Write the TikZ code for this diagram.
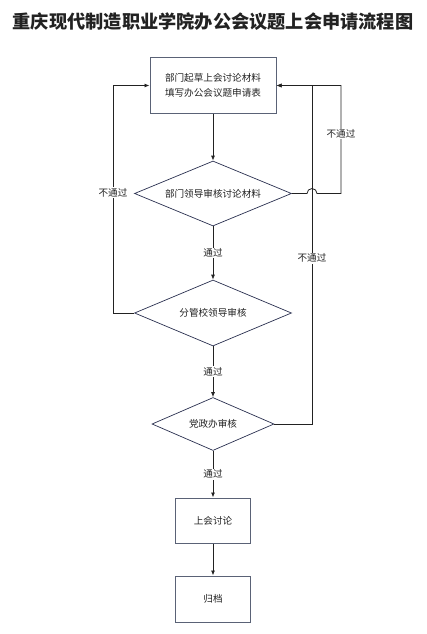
\documentclass[tikz,border=0pt]{standalone}
\usepackage{fontspec}
\setmainfont{Noto Sans CJK SC}
\usetikzlibrary{arrows.meta,shapes.geometric}
\definecolor{Frame}{HTML}{5A6276}
\definecolor{Navy}{HTML}{2A3050}
\definecolor{Ink}{HTML}{222222}
\begin{document}
\begin{tikzpicture}[x=1pt,y=-1pt,>={Latex[length=5pt,width=4pt]},
  every node/.style={font=\fontsize{9.6}{15}\selectfont,text=Ink},
  stepbox/.style={draw=Frame,line width=1pt,fill=white,align=center},
  check/.style={diamond,aspect=2.4,draw=Navy,line width=.7pt,fill=white,inner sep=0pt},
  tag/.style={fill=white,inner sep=1pt},
  line/.style={draw=Ink,line width=.8pt}]
\useasboundingbox (0,0) rectangle (426,634);
\node[font=\fontsize{18.2}{22}\selectfont\bfseries] (title) at (213,22){重庆现代制造职业学院办公会议题上会申请流程图};
% main column
\node[stepbox,minimum width=126pt,minimum height=55pt] (draft) at (213,85.5){部门起草上会讨论材料\\填写办公会议题申请表};
\node[check,minimum width=157pt,minimum height=65pt] (dept) at (213,193.5){部门领导审核讨论材料};
\node[check,minimum width=157pt,minimum height=66pt] (vice) at (213,313){分管校领导审核};
\node[check,aspect=2.3,minimum width=122pt,minimum height=53pt] (party) at (213,424){党政办审核};
\node[stepbox,minimum width=75pt,minimum height=45pt] (meet) at (213,520.5){上会讨论};
\node[stepbox,minimum width=75pt,minimum height=46pt] (file) at (213,599){归档};
\draw[line,->] (draft)--(dept);
\draw[line,->] (dept)--node[tag]{通过}(vice);
\draw[line,->] (vice)--node[tag]{通过}(party);
\draw[line,->] (party)--node[tag]{通过}(meet);
\draw[line,->] (meet)--(file);
% returns
\coordinate (lt) at (113,313);
\coordinate (lb) at (113,85.5);
\draw[line,->] (vice.west)--(lt)--node[tag,pos=.53]{不通过}(lb)--(draft.west);
\coordinate (rt) at (312,424);
\coordinate (rb) at (312,85.5);
\draw[line,->] (party.east)--(rt)--node[tag,pos=.49]{不通过}(rb)--(draft.east);
\coordinate (jl) at (307,193.5);
\coordinate (ot) at (341,193.5);
\coordinate (ob) at (341,85.5);
\draw[line,->] (dept.east)--(jl) arc[start angle=180,end angle=0,radius=5pt]--(ot)--node[tag,pos=.55]{不通过}(ob)--(draft.east);
\end{tikzpicture}
\end{document}
